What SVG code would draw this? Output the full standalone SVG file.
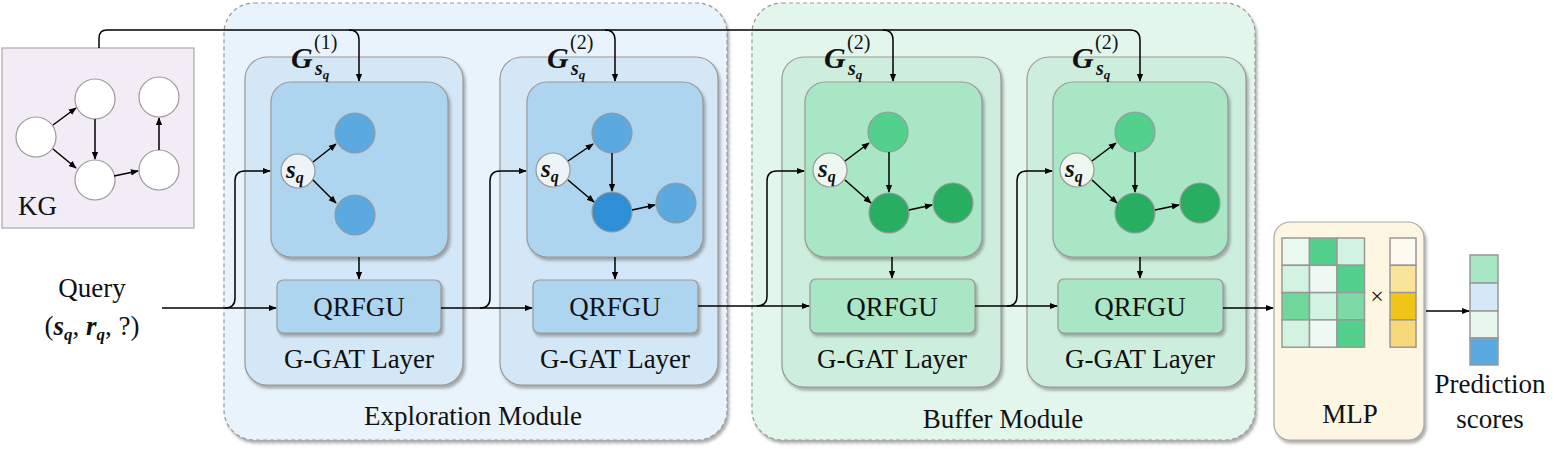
<svg xmlns="http://www.w3.org/2000/svg" width="1555" height="450" viewBox="0 0 1555 450" font-family="'Liberation Serif', 'Times New Roman', serif">
<defs>
<marker id="ah" viewBox="0 0 10 10" refX="9" refY="5" markerWidth="8" markerHeight="8" orient="auto" markerUnits="userSpaceOnUse"><path d="M0,1 L10,5 L0,9 z" fill="#000"/></marker>
<filter id="sh" x="-10%" y="-10%" width="130%" height="130%"><feDropShadow dx="2" dy="3" stdDeviation="1.5" flood-color="#777" flood-opacity="0.6"/></filter>
</defs>
<style>
text{font-family:'Liberation Serif','Times New Roman',serif;fill:#111}
.lbl{font-size:27px;text-anchor:middle}
.m{font-style:italic;font-weight:bold}
.e{stroke:#000;stroke-width:1.5;fill:none;marker-end:url(#ah)}
.mod{stroke:#999;stroke-dasharray:4 3;stroke-width:1.2;filter:url(#sh)}
.box{stroke:#999;stroke-width:1.2;filter:url(#sh)}
.nd{stroke:#999;stroke-width:1.2}
.cell{stroke:#999;stroke-width:1.5}
</style>

<g id="kg">
<rect x="2" y="48" width="192" height="180" fill="#f2ecf6" stroke="#aaa" stroke-width="1.2"/>
<circle cx="36" cy="137" r="20" fill="#fff" class="nd"/>
<circle cx="95" cy="99" r="20" fill="#fff" class="nd"/>
<circle cx="95" cy="180" r="20" fill="#fff" class="nd"/>
<circle cx="159" cy="97" r="20" fill="#fff" class="nd"/>
<circle cx="159" cy="170" r="20" fill="#fff" class="nd"/>
<line x1="53" y1="125" x2="76" y2="108" class="e"/>
<line x1="53" y1="149" x2="76" y2="168" class="e"/>
<line x1="95" y1="119" x2="95" y2="159" class="e"/>
<line x1="114" y1="176" x2="138" y2="171" class="e"/>
<line x1="159" y1="150" x2="159" y2="118" class="e"/>
<text x="18" y="215" font-size="27">KG</text>
</g>

<g id="query">
<text x="92" y="297" class="lbl">Query</text>
<text x="92" y="335" class="lbl">(<tspan class="m">s</tspan><tspan class="m" font-size="17" dy="5">q</tspan><tspan dy="-5">, </tspan><tspan class="m">r</tspan><tspan class="m" font-size="17" dy="5">q</tspan><tspan dy="-5">, ?)</tspan></text>
</g>

<g id="exploration">
<rect x="224" y="3" width="503" height="437" rx="30" fill="#e9f3fb" class="mod"/>
<text x="473" y="425" class="lbl">Exploration Module</text>
</g>
<g id="buffer">
<rect x="752" y="3" width="503" height="437" rx="30" fill="#e3f6ec" class="mod"/>
<text x="1003" y="428" class="lbl">Buffer Module</text>
</g>

<g id="layer1">
<rect x="245" y="57" width="218" height="328" rx="22" fill="#d4e7f6" class="box"/>
<rect x="271" y="82" width="177" height="175" rx="20" fill="#aed5ef" class="box"/>
<rect x="277" y="280" width="164" height="53" rx="6" fill="#aed5ef" class="box"/>
<text x="359" y="316" class="lbl">QRFGU</text>
<text x="359" y="368" class="lbl">G-GAT Layer</text>
<text x="291" y="68" font-size="30" class="m">G</text><text x="314" y="49" font-size="20">(1)</text><text x="315" y="75" font-size="20" class="m">s<tspan font-size="13" dy="4">q</tspan></text>
<circle cx="355" cy="133" r="20" fill="#5aa9e0" class="nd"/>
<circle cx="355" cy="215" r="20" fill="#5aa9e0" class="nd"/>
<circle cx="298" cy="171" r="17" fill="#eef3f7" class="nd"/>
<text x="286" y="178" font-size="25" class="m">s<tspan font-size="16" dy="5">q</tspan></text>
<line x1="313" y1="162" x2="336" y2="144" class="e"/>
<line x1="313" y1="180" x2="336" y2="203" class="e"/>
</g>

<g id="layer2">
<rect x="500" y="57" width="218" height="328" rx="22" fill="#d4e7f6" class="box"/>
<rect x="527" y="82" width="176" height="175" rx="20" fill="#aed5ef" class="box"/>
<rect x="533" y="280" width="165" height="53" rx="6" fill="#aed5ef" class="box"/>
<text x="615" y="316" class="lbl">QRFGU</text>
<text x="615" y="368" class="lbl">G-GAT Layer</text>
<text x="547" y="68" font-size="30" class="m">G</text><text x="570" y="49" font-size="20">(2)</text><text x="571" y="75" font-size="20" class="m">s<tspan font-size="13" dy="4">q</tspan></text>
<circle cx="612" cy="133" r="20" fill="#5aa9e0" class="nd"/>
<circle cx="612" cy="212" r="20" fill="#2f8fd6" class="nd"/>
<circle cx="676" cy="203" r="20" fill="#5aa9e0" class="nd"/>
<circle cx="553" cy="170" r="17" fill="#eef3f7" class="nd"/>
<text x="541" y="177" font-size="25" class="m">s<tspan font-size="16" dy="5">q</tspan></text>
<line x1="568" y1="161" x2="593" y2="144" class="e"/>
<line x1="568" y1="180" x2="594" y2="202" class="e"/>
<line x1="612" y1="153" x2="612" y2="191" class="e"/>
<line x1="632" y1="210" x2="655" y2="205" class="e"/>
</g>

<g id="layer3">
<rect x="782" y="57" width="219" height="330" rx="22" fill="#cdeedd" class="box"/>
<rect x="805" y="82" width="177" height="175" rx="20" fill="#a8e6c6" class="box"/>
<rect x="810" y="279" width="165" height="54" rx="6" fill="#a8e6c6" class="box"/>
<text x="892" y="316" class="lbl">QRFGU</text>
<text x="892" y="368" class="lbl">G-GAT Layer</text>
<text x="824" y="68" font-size="30" class="m">G</text><text x="847" y="49" font-size="20">(2)</text><text x="848" y="75" font-size="20" class="m">s<tspan font-size="13" dy="4">q</tspan></text>
<circle cx="888" cy="132" r="20" fill="#52d08c" class="nd"/>
<circle cx="889" cy="213" r="20" fill="#27ae60" class="nd"/>
<circle cx="953" cy="203" r="20" fill="#27ae60" class="nd"/>
<circle cx="830" cy="170" r="17" fill="#eef6f1" class="nd"/>
<text x="818" y="177" font-size="25" class="m">s<tspan font-size="16" dy="5">q</tspan></text>
<line x1="845" y1="161" x2="869" y2="143" class="e"/>
<line x1="845" y1="180" x2="871" y2="203" class="e"/>
<line x1="889" y1="152" x2="889" y2="192" class="e"/>
<line x1="909" y1="210" x2="932" y2="205" class="e"/>
</g>

<g id="layer4">
<rect x="1027" y="57" width="219" height="330" rx="22" fill="#cdeedd" class="box"/>
<rect x="1053" y="82" width="175" height="175" rx="20" fill="#a8e6c6" class="box"/>
<rect x="1058" y="279" width="165" height="54" rx="6" fill="#a8e6c6" class="box"/>
<text x="1140" y="316" class="lbl">QRFGU</text>
<text x="1140" y="368" class="lbl">G-GAT Layer</text>
<text x="1072" y="68" font-size="30" class="m">G</text><text x="1095" y="49" font-size="20">(2)</text><text x="1096" y="75" font-size="20" class="m">s<tspan font-size="13" dy="4">q</tspan></text>
<circle cx="1135" cy="132" r="20" fill="#52d08c" class="nd"/>
<circle cx="1135" cy="213" r="20" fill="#27ae60" class="nd"/>
<circle cx="1200" cy="203" r="20" fill="#27ae60" class="nd"/>
<circle cx="1077" cy="170" r="17" fill="#eef6f1" class="nd"/>
<text x="1065" y="177" font-size="25" class="m">s<tspan font-size="16" dy="5">q</tspan></text>
<line x1="1092" y1="161" x2="1116" y2="143" class="e"/>
<line x1="1092" y1="180" x2="1117" y2="203" class="e"/>
<line x1="1135" y1="152" x2="1135" y2="192" class="e"/>
<line x1="1155" y1="210" x2="1179" y2="205" class="e"/>
</g>

<g id="mlp">
<rect x="1274" y="222" width="150" height="218" rx="16" fill="#fdf6e3" stroke="#aaa" stroke-width="1.2" filter="url(#sh)"/>
<rect x="1282" y="238" width="27.5" height="27.3" fill="#eaf8ef" class="cell"/>
<rect x="1309.5" y="238" width="27.5" height="27.3" fill="#52d08c" class="cell"/>
<rect x="1337" y="238" width="27.5" height="27.3" fill="#d2f2e2" class="cell"/>
<rect x="1282" y="265.3" width="27.5" height="27.3" fill="#d2f2e2" class="cell"/>
<rect x="1309.5" y="265.3" width="27.5" height="27.3" fill="#eef9f3" class="cell"/>
<rect x="1337" y="265.3" width="27.5" height="27.3" fill="#52d08c" class="cell"/>
<rect x="1282" y="292.6" width="27.5" height="27.3" fill="#6fd69c" class="cell"/>
<rect x="1309.5" y="292.6" width="27.5" height="27.3" fill="#d2f2e2" class="cell"/>
<rect x="1337" y="292.6" width="27.5" height="27.3" fill="#7ddaa6" class="cell"/>
<rect x="1282" y="319.9" width="27.5" height="27.3" fill="#d2f2e2" class="cell"/>
<rect x="1309.5" y="319.9" width="27.5" height="27.3" fill="#eef9f3" class="cell"/>
<rect x="1337" y="319.9" width="27.5" height="27.3" fill="#52d08c" class="cell"/>
<text x="1377" y="304" font-size="24" text-anchor="middle">×</text>
<rect x="1390" y="238" width="26" height="27.3" fill="#fdfaf0" class="cell"/>
<rect x="1390" y="265.3" width="26" height="27.3" fill="#f9e49a" class="cell"/>
<rect x="1390" y="292.6" width="26" height="27.3" fill="#f0c419" class="cell"/>
<rect x="1390" y="319.9" width="26" height="27.3" fill="#f7d87a" class="cell"/>
<text x="1350" y="423" class="lbl" font-size="28">MLP</text>
</g>

<g id="prediction">
<rect x="1470" y="255" width="28" height="28" fill="#a8e6c4" class="cell"/>
<rect x="1470" y="283" width="28" height="28" fill="#d5e8f7" class="cell"/>
<rect x="1470" y="311" width="28" height="27" fill="#e8f7ee" class="cell"/>
<rect x="1470" y="338" width="28" height="27" fill="#5aaae0" class="cell"/>
<text x="1490" y="393" class="lbl" font-size="28">Prediction</text>
<text x="1490" y="428" class="lbl" font-size="28">scores</text>
</g>

<g id="connectors">
<path d="M99,48 V38 Q99,30 107,30 H1130 Q1140,30 1140,40 V81" class="e"/>
<path d="M349,30 Q359,30 359,40 V81" class="e"/>
<path d="M605,30 Q615,30 615,40 V81" class="e"/>
<path d="M883,30 Q893,30 893,40 V81" class="e"/>
<line x1="359" y1="257" x2="359" y2="279" class="e"/>
<line x1="615" y1="257" x2="615" y2="279" class="e"/>
<line x1="892" y1="257" x2="892" y2="278" class="e"/>
<line x1="1140" y1="257" x2="1140" y2="278" class="e"/>
<line x1="162" y1="308" x2="276" y2="308" class="e"/>
<path d="M225,308 Q235,308 235,298 V181 Q235,171 245,171 H270" class="e"/>
<line x1="441" y1="308" x2="532" y2="308" class="e"/>
<path d="M480,308 Q490,308 490,298 V181 Q490,171 500,171 H526" class="e"/>
<line x1="698" y1="306" x2="809" y2="306" class="e"/>
<path d="M757,306 Q767,306 767,296 V181 Q767,171 777,171 H804" class="e"/>
<line x1="975" y1="306" x2="1057" y2="306" class="e"/>
<path d="M1007,306 Q1017,306 1017,296 V181 Q1017,171 1027,171 H1052" class="e"/>
<line x1="1223" y1="308" x2="1273" y2="308" class="e"/>
<line x1="1426" y1="311" x2="1469" y2="311" class="e"/>
</g>
</svg>
